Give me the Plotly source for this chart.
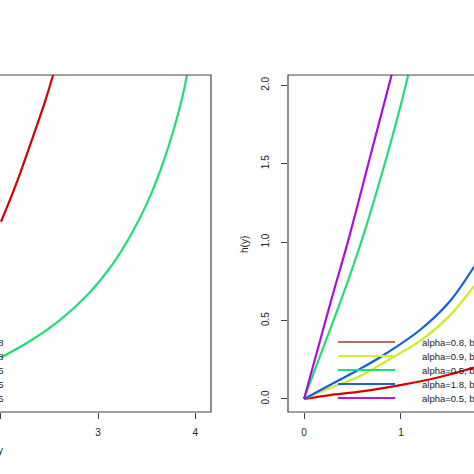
import plotly.graph_objects as go

# hazard curves h(y)
# left panel (only x from ~2 to 4 is visible)
left_red_x = [2.0, 2.15, 2.3, 2.45, 2.538, 2.6]
left_red_y = [1.13, 1.36, 1.62, 1.89, 2.068, 2.2]
left_green_x = [2.0, 2.3, 2.6, 2.9, 3.15, 3.35, 3.52, 3.66, 3.78, 3.87, 3.915, 3.94]
left_green_y = [0.265, 0.37, 0.50, 0.67, 0.86, 1.06, 1.27, 1.49, 1.72, 1.93, 2.064, 2.15]

# right panel
red_x = [0, 0.268, 0.557, 1.05, 1.4, 1.753]
red_y = [0, 0.025, 0.045, 0.095, 0.14, 0.2]
yellow_x = [0, 0.268, 0.557, 0.9, 1.196, 1.5, 1.753]
yellow_y = [0, 0.07, 0.14, 0.26, 0.37, 0.53, 0.72]
green_x = [0, 0.2, 0.4, 0.6, 0.8, 1.0, 1.075, 1.1]
green_y = [0, 0.33, 0.66, 1.02, 1.43, 1.88, 2.07, 2.14]
blue_x = [0, 0.268, 0.557, 0.81, 1.196, 1.5, 1.753]
blue_y = [0, 0.089, 0.185, 0.276, 0.44, 0.62, 0.843]
purple_x = [0, 0.281, 0.457, 0.691, 0.905, 0.93]
purple_y = [0, 0.631, 1.013, 1.565, 2.07, 2.13]

legend_labels = ["alpha=0.8, beta=1.8", "alpha=0.9, beta=0.8", "alpha=0.5, beta=1.5",
                 "alpha=1.8, beta=0.5", "alpha=0.5, beta=2.5"]
legend_cols = ["#b5706a", "#d4f030", "#22dd77", "#1a66cc", "#b01ad8"]

x_ticks = [0, 1, 2, 3, 4]
y_ticks = [0.0, 0.5, 1.0, 1.5, 2.0]

W = H = 474
def px(v):
    return v / W
def py(v):
    return 1 - v / H

RED, YEL, GRN, BLU, PUR = "#d80000", "#ccee22", "#22dd77", "#1060d8", "#aa10d8"
lw = 2.2

fig = go.Figure()
fig.add_trace(go.Scatter(x=left_red_x, y=left_red_y, mode="lines", line=dict(color=RED, width=lw, shape="spline"), xaxis="x", yaxis="y"))
fig.add_trace(go.Scatter(x=left_green_x, y=left_green_y, mode="lines", line=dict(color=GRN, width=lw, shape="spline"), xaxis="x", yaxis="y"))

for xs, ys, c in [(red_x, red_y, RED), (yellow_x, yellow_y, YEL), (green_x, green_y, GRN),
                  (blue_x, blue_y, BLU), (purple_x, purple_y, PUR)]:
    fig.add_trace(go.Scatter(x=xs, y=ys, mode="lines", line=dict(color=c, width=lw, shape="spline"),
                             xaxis="x2", yaxis="y2"))

font = dict(family="Liberation Sans, Arial", size=10, color="#222")
yrange = [-0.083, 2.066]
axis_common = dict(showgrid=False, zeroline=False, showline=False, ticks="outside",
                   ticklen=6, tickcolor="#444", tickfont=font)

fig.update_layout(
    width=W, height=H, margin=dict(l=0, r=0, t=0, b=0),
    paper_bgcolor="white", plot_bgcolor="white", showlegend=False,
    xaxis=dict(domain=[0, px(211)], range=[1.9898, 4.163], tickvals=x_ticks, anchor="y",
               ticklabelstandoff=5, **axis_common),
    yaxis=dict(domain=[py(412), py(75)], range=yrange, showticklabels=False, ticks="",
               showgrid=False, zeroline=False, anchor="x"),
    xaxis2=dict(domain=[px(288), 1], range=[-0.165, 1.753], tickvals=x_ticks, anchor="y2",
                ticklabelstandoff=5, **axis_common),
    yaxis2=dict(domain=[py(412), py(75)], range=yrange, tickvals=y_ticks, ticktext=["0.0", "0.5", "1.0", "1.5", "2.0"],
                tickangle=-90, anchor="x2", ticklabelstandoff=8, **axis_common),
)

# R-style boxes around both panels (they run off the picture)
box = dict(type="rect", xref="paper", yref="paper", line=dict(color="#444", width=1.2), layer="above")
fig.add_shape(x0=-0.6, x1=px(211), y0=py(412), y1=py(75), **box)
fig.add_shape(x0=px(288), x1=1.6, y0=py(412), y1=py(75), **box)

# legends
rows = [342, 356, 370, 384, 398]
lfont = dict(family="Liberation Sans, Arial", size=9.5, color="#222")
for r, lab, c in zip(rows, legend_labels, legend_cols):
    fig.add_shape(type="line", xref="paper", yref="paper", x0=px(338), x1=px(395), y0=py(r), y1=py(r),
                  line=dict(color=c, width=2))
    fig.add_annotation(text=lab, xref="paper", yref="paper", x=px(420), y=py(r), xanchor="left",
                       yanchor="middle", showarrow=False, font=lfont)
    fig.add_annotation(text=lab, xref="paper", yref="paper", x=px(5.5), y=py(r), xanchor="right",
                       yanchor="middle", showarrow=False, font=lfont)

fig.add_annotation(text="h(y)", xref="paper", yref="paper", x=px(244), y=py(245), textangle=-90,
                   showarrow=False, font=font)
fig.add_annotation(text="y", xref="paper", yref="paper", x=px(-4), y=py(458), showarrow=False, font=font)

fig.write_html("out.html", config={"displayModeBar": False},
               post_script="document.body.style.margin='0';")
